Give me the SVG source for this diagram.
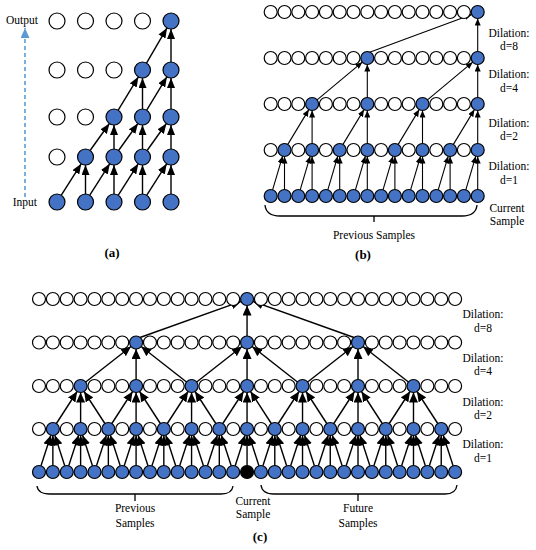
<svg xmlns="http://www.w3.org/2000/svg" width="536" height="550" viewBox="0 0 536 550">
<style>
circle{stroke:#000;stroke-width:1.2}
.e{fill:#fff}
.f{fill:#4472C4}
.k{fill:#000}
.ca line{stroke:#000;stroke-width:1.4;marker-end:url(#ha)}
.cb line{stroke:#000;stroke-width:1.1;marker-end:url(#hb)}
.cc line{stroke:#000;stroke-width:1.4;marker-end:url(#hc)}
.br{fill:none;stroke:#000;stroke-width:1.3}
text{font-family:"Liberation Serif","Times New Roman",serif;font-size:11.5px;fill:#000}
.m{text-anchor:middle}
.r{text-anchor:end}
.lb{font-weight:bold;font-size:13px;text-anchor:middle}
</style>
<defs>
<marker id="ha" markerUnits="userSpaceOnUse" markerWidth="10" markerHeight="8" refX="10" refY="4" orient="auto"><path d="M0,0 L10,4 L0,8 z" fill="#000"/></marker>
<marker id="hb" markerUnits="userSpaceOnUse" markerWidth="7" markerHeight="6" refX="7" refY="3" orient="auto"><path d="M0,0 L7,3 L0,6 z" fill="#000"/></marker>
<marker id="hc" markerUnits="userSpaceOnUse" markerWidth="10" markerHeight="9" refX="10" refY="4.5" orient="auto"><path d="M0,0 L10,4.5 L0,9 z" fill="#000"/></marker>
<marker id="hd" markerUnits="userSpaceOnUse" markerWidth="10" markerHeight="9" refX="10" refY="4.5" orient="auto"><path d="M0,0 L10,4.5 L0,9 z" fill="#5B9BD5"/></marker>
</defs>

<!-- connectors -->
<g id="connectors">
<g class="ca">
<line x1="85.5" y1="194" x2="85.5" y2="165"/>
<line x1="114" y1="194" x2="114" y2="165"/>
<line x1="142.5" y1="194" x2="142.5" y2="165"/>
<line x1="171" y1="194" x2="171" y2="165"/>
<line x1="61.3" y1="195.2" x2="81.2" y2="163.8"/>
<line x1="89.8" y1="195.2" x2="109.7" y2="163.8"/>
<line x1="118.3" y1="195.2" x2="138.2" y2="163.8"/>
<line x1="146.8" y1="195.2" x2="166.7" y2="163.8"/>
<line x1="114" y1="149" x2="114" y2="125"/>
<line x1="142.5" y1="149" x2="142.5" y2="125"/>
<line x1="171" y1="149" x2="171" y2="125"/>
<line x1="90.1" y1="150.5" x2="109.4" y2="123.5"/>
<line x1="118.6" y1="150.5" x2="137.9" y2="123.5"/>
<line x1="147.1" y1="150.5" x2="166.4" y2="123.5"/>
<line x1="142.5" y1="109" x2="142.5" y2="78"/>
<line x1="171" y1="109" x2="171" y2="78"/>
<line x1="118.2" y1="110.2" x2="138.4" y2="76.8"/>
<line x1="146.7" y1="110.2" x2="166.9" y2="76.8"/>
<line x1="171" y1="62" x2="171" y2="29"/>
<line x1="146.5" y1="63.1" x2="167" y2="27.9"/>
</g>
<line id="time-arrow" x1="25" y1="197" x2="25" y2="28" stroke="#5B9BD5" stroke-width="1.6" stroke-dasharray="4,3" marker-end="url(#hd)"/>

<g class="cb">
<line x1="284.5" y1="189.5" x2="284.5" y2="156.5"/>
<line x1="312.1" y1="189.5" x2="312.1" y2="156.5"/>
<line x1="339.7" y1="189.5" x2="339.7" y2="156.5"/>
<line x1="367.3" y1="189.5" x2="367.3" y2="156.5"/>
<line x1="394.9" y1="189.5" x2="394.9" y2="156.5"/>
<line x1="422.5" y1="189.5" x2="422.5" y2="156.5"/>
<line x1="450.1" y1="189.5" x2="450.1" y2="156.5"/>
<line x1="477.7" y1="189.5" x2="477.7" y2="156.5"/>
<line x1="272.6" y1="189.8" x2="282.6" y2="156.2"/>
<line x1="300.2" y1="189.8" x2="310.2" y2="156.2"/>
<line x1="327.8" y1="189.8" x2="337.8" y2="156.2"/>
<line x1="355.4" y1="189.8" x2="365.4" y2="156.2"/>
<line x1="383" y1="189.8" x2="393" y2="156.2"/>
<line x1="410.6" y1="189.8" x2="420.6" y2="156.2"/>
<line x1="438.2" y1="189.8" x2="448.2" y2="156.2"/>
<line x1="465.8" y1="189.8" x2="475.8" y2="156.2"/>
<line x1="312.1" y1="143.5" x2="312.1" y2="110.5"/>
<line x1="367.3" y1="143.5" x2="367.3" y2="110.5"/>
<line x1="422.5" y1="143.5" x2="422.5" y2="110.5"/>
<line x1="477.7" y1="143.5" x2="477.7" y2="110.5"/>
<line x1="287.8" y1="144.4" x2="308.8" y2="109.6"/>
<line x1="343" y1="144.4" x2="364" y2="109.6"/>
<line x1="398.2" y1="144.4" x2="419.2" y2="109.6"/>
<line x1="453.4" y1="144.4" x2="474.4" y2="109.6"/>
<line x1="367.3" y1="97.5" x2="367.3" y2="64.5"/>
<line x1="477.7" y1="97.5" x2="477.7" y2="64.5"/>
<line x1="317.1" y1="99.8" x2="362.3" y2="62.2"/>
<line x1="427.5" y1="99.8" x2="472.7" y2="62.2"/>
<line x1="477.7" y1="51.5" x2="477.7" y2="18.5"/>
<line x1="369" y1="52.5" x2="471.7" y2="14.5"/>
</g>

<g class="cc">
<line x1="41" y1="465.8" x2="50.87" y2="435.2"/><line x1="52.87" y1="465.5" x2="52.87" y2="435.5"/><line x1="64.74" y1="465.8" x2="54.87" y2="435.2"/>
<line x1="68.74" y1="465.8" x2="78.61" y2="435.2"/><line x1="80.61" y1="465.5" x2="80.61" y2="435.5"/><line x1="92.48" y1="465.8" x2="82.61" y2="435.2"/>
<line x1="96.48" y1="465.8" x2="106.35" y2="435.2"/><line x1="108.35" y1="465.5" x2="108.35" y2="435.5"/><line x1="120.22" y1="465.8" x2="110.35" y2="435.2"/>
<line x1="124.22" y1="465.8" x2="134.09" y2="435.2"/><line x1="136.09" y1="465.5" x2="136.09" y2="435.5"/><line x1="147.96" y1="465.8" x2="138.09" y2="435.2"/>
<line x1="151.96" y1="465.8" x2="161.83" y2="435.2"/><line x1="163.83" y1="465.5" x2="163.83" y2="435.5"/><line x1="175.7" y1="465.8" x2="165.83" y2="435.2"/>
<line x1="179.7" y1="465.8" x2="189.57" y2="435.2"/><line x1="191.57" y1="465.5" x2="191.57" y2="435.5"/><line x1="203.44" y1="465.8" x2="193.57" y2="435.2"/>
<line x1="207.44" y1="465.8" x2="217.31" y2="435.2"/><line x1="219.31" y1="465.5" x2="219.31" y2="435.5"/><line x1="231.18" y1="465.8" x2="221.31" y2="435.2"/>
<line x1="235.18" y1="465.8" x2="245.05" y2="435.2"/><line x1="247.05" y1="465.5" x2="247.05" y2="435.5"/><line x1="258.92" y1="465.8" x2="249.05" y2="435.2"/>
<line x1="262.92" y1="465.8" x2="272.79" y2="435.2"/><line x1="274.79" y1="465.5" x2="274.79" y2="435.5"/><line x1="286.66" y1="465.8" x2="276.79" y2="435.2"/>
<line x1="290.66" y1="465.8" x2="300.53" y2="435.2"/><line x1="302.53" y1="465.5" x2="302.53" y2="435.5"/><line x1="314.4" y1="465.8" x2="304.53" y2="435.2"/>
<line x1="318.4" y1="465.8" x2="328.27" y2="435.2"/><line x1="330.27" y1="465.5" x2="330.27" y2="435.5"/><line x1="342.14" y1="465.8" x2="332.27" y2="435.2"/>
<line x1="346.14" y1="465.8" x2="356.01" y2="435.2"/><line x1="358.01" y1="465.5" x2="358.01" y2="435.5"/><line x1="369.88" y1="465.8" x2="360.01" y2="435.2"/>
<line x1="373.88" y1="465.8" x2="383.75" y2="435.2"/><line x1="385.75" y1="465.5" x2="385.75" y2="435.5"/><line x1="397.62" y1="465.8" x2="387.75" y2="435.2"/>
<line x1="401.62" y1="465.8" x2="411.49" y2="435.2"/><line x1="413.49" y1="465.5" x2="413.49" y2="435.5"/><line x1="425.36" y1="465.8" x2="415.49" y2="435.2"/>
<line x1="429.36" y1="465.8" x2="439.23" y2="435.2"/><line x1="441.23" y1="465.5" x2="441.23" y2="435.5"/><line x1="453.1" y1="465.8" x2="443.23" y2="435.2"/>

<line x1="56.4" y1="423.5" x2="77.1" y2="391.5"/><line x1="80.61" y1="422.5" x2="80.61" y2="392.5"/><line x1="104.85" y1="423.5" x2="84.1" y2="391.5"/>
<line x1="111.85" y1="423.5" x2="132.59" y2="391.5"/><line x1="136.09" y1="422.5" x2="136.09" y2="392.5"/><line x1="160.33" y1="423.5" x2="139.59" y2="391.5"/>
<line x1="167.33" y1="423.5" x2="188.07" y2="391.5"/><line x1="191.57" y1="422.5" x2="191.57" y2="392.5"/><line x1="215.81" y1="423.5" x2="195.07" y2="391.5"/>
<line x1="222.81" y1="423.5" x2="243.55" y2="391.5"/><line x1="247.05" y1="422.5" x2="247.05" y2="392.5"/><line x1="271.29" y1="423.5" x2="250.55" y2="391.5"/>
<line x1="278.29" y1="423.5" x2="299.03" y2="391.5"/><line x1="302.53" y1="422.5" x2="302.53" y2="392.5"/><line x1="326.77" y1="423.5" x2="306.03" y2="391.5"/>
<line x1="333.77" y1="423.5" x2="354.51" y2="391.5"/><line x1="358.01" y1="422.5" x2="358.01" y2="392.5"/><line x1="382.25" y1="423.5" x2="361.51" y2="391.5"/>
<line x1="389.25" y1="423.5" x2="409.99" y2="391.5"/><line x1="413.49" y1="422.5" x2="413.49" y2="392.5"/><line x1="437.73" y1="423.5" x2="416.99" y2="391.5"/>

<line x1="85.7" y1="382" x2="131" y2="346.5"/><line x1="136.09" y1="379.5" x2="136.09" y2="349"/><line x1="186.5" y1="382" x2="141.2" y2="346.5"/>
<line x1="196.7" y1="382" x2="241.95" y2="346.5"/><line x1="247.05" y1="379.5" x2="247.05" y2="349"/><line x1="297.43" y1="382" x2="252.15" y2="346.5"/>
<line x1="307.63" y1="382" x2="352.91" y2="346.5"/><line x1="358.01" y1="379.5" x2="358.01" y2="349"/><line x1="408.39" y1="382" x2="363.11" y2="346.5"/>

<line x1="140" y1="337.5" x2="241" y2="301.4"/><line x1="247.05" y1="336" x2="247.05" y2="305.5"/><line x1="354" y1="337.5" x2="253.1" y2="301.4"/>
</g>
</g>

<!-- panel (a) nodes -->
<g id="panel-a">
<g id="a0_0"><circle class="e" cx="57" cy="21" r="8"/></g>
<g id="a0_1"><circle class="e" cx="85.5" cy="21" r="8"/></g>
<g id="a0_2"><circle class="e" cx="114" cy="21" r="8"/></g>
<g id="a0_3"><circle class="e" cx="142.5" cy="21" r="8"/></g>
<g id="a0_4"><circle class="f" cx="171" cy="21" r="8"/></g>
<g id="a1_0"><circle class="e" cx="57" cy="70" r="8"/></g>
<g id="a1_1"><circle class="e" cx="85.5" cy="70" r="8"/></g>
<g id="a1_2"><circle class="e" cx="114" cy="70" r="8"/></g>
<g id="a1_3"><circle class="f" cx="142.5" cy="70" r="8"/></g>
<g id="a1_4"><circle class="f" cx="171" cy="70" r="8"/></g>
<g id="a2_0"><circle class="e" cx="57" cy="117" r="8"/></g>
<g id="a2_1"><circle class="e" cx="85.5" cy="117" r="8"/></g>
<g id="a2_2"><circle class="f" cx="114" cy="117" r="8"/></g>
<g id="a2_3"><circle class="f" cx="142.5" cy="117" r="8"/></g>
<g id="a2_4"><circle class="f" cx="171" cy="117" r="8"/></g>
<g id="a3_0"><circle class="e" cx="57" cy="157" r="8"/></g>
<g id="a3_1"><circle class="f" cx="85.5" cy="157" r="8"/></g>
<g id="a3_2"><circle class="f" cx="114" cy="157" r="8"/></g>
<g id="a3_3"><circle class="f" cx="142.5" cy="157" r="8"/></g>
<g id="a3_4"><circle class="f" cx="171" cy="157" r="8"/></g>
<g id="a4_0"><circle class="f" cx="57" cy="202" r="8"/></g>
<g id="a4_1"><circle class="f" cx="85.5" cy="202" r="8"/></g>
<g id="a4_2"><circle class="f" cx="114" cy="202" r="8"/></g>
<g id="a4_3"><circle class="f" cx="142.5" cy="202" r="8"/></g>
<g id="a4_4"><circle class="f" cx="171" cy="202" r="8"/></g>
<text class="r" x="38" y="23.5">Output</text>
<text class="r" x="37" y="206">Input</text>
<text class="lb" x="112" y="257">(a)</text>
</g>

<!-- panel (b) nodes -->
<g id="panel-b">
<g id="b0_0"><circle class="e" cx="270.7" cy="12" r="6.5"/></g>
<g id="b0_1"><circle class="e" cx="284.5" cy="12" r="6.5"/></g>
<g id="b0_2"><circle class="e" cx="298.3" cy="12" r="6.5"/></g>
<g id="b0_3"><circle class="e" cx="312.1" cy="12" r="6.5"/></g>
<g id="b0_4"><circle class="e" cx="325.9" cy="12" r="6.5"/></g>
<g id="b0_5"><circle class="e" cx="339.7" cy="12" r="6.5"/></g>
<g id="b0_6"><circle class="e" cx="353.5" cy="12" r="6.5"/></g>
<g id="b0_7"><circle class="e" cx="367.3" cy="12" r="6.5"/></g>
<g id="b0_8"><circle class="e" cx="381.1" cy="12" r="6.5"/></g>
<g id="b0_9"><circle class="e" cx="394.9" cy="12" r="6.5"/></g>
<g id="b0_10"><circle class="e" cx="408.7" cy="12" r="6.5"/></g>
<g id="b0_11"><circle class="e" cx="422.5" cy="12" r="6.5"/></g>
<g id="b0_12"><circle class="e" cx="436.3" cy="12" r="6.5"/></g>
<g id="b0_13"><circle class="e" cx="450.1" cy="12" r="6.5"/></g>
<g id="b0_14"><circle class="e" cx="463.9" cy="12" r="6.5"/></g>
<g id="b0_15"><circle class="f" cx="477.7" cy="12" r="6.5"/></g>
<g id="b1_0"><circle class="e" cx="270.7" cy="58" r="6.5"/></g>
<g id="b1_1"><circle class="e" cx="284.5" cy="58" r="6.5"/></g>
<g id="b1_2"><circle class="e" cx="298.3" cy="58" r="6.5"/></g>
<g id="b1_3"><circle class="e" cx="312.1" cy="58" r="6.5"/></g>
<g id="b1_4"><circle class="e" cx="325.9" cy="58" r="6.5"/></g>
<g id="b1_5"><circle class="e" cx="339.7" cy="58" r="6.5"/></g>
<g id="b1_6"><circle class="e" cx="353.5" cy="58" r="6.5"/></g>
<g id="b1_7"><circle class="f" cx="367.3" cy="58" r="6.5"/></g>
<g id="b1_8"><circle class="e" cx="381.1" cy="58" r="6.5"/></g>
<g id="b1_9"><circle class="e" cx="394.9" cy="58" r="6.5"/></g>
<g id="b1_10"><circle class="e" cx="408.7" cy="58" r="6.5"/></g>
<g id="b1_11"><circle class="e" cx="422.5" cy="58" r="6.5"/></g>
<g id="b1_12"><circle class="e" cx="436.3" cy="58" r="6.5"/></g>
<g id="b1_13"><circle class="e" cx="450.1" cy="58" r="6.5"/></g>
<g id="b1_14"><circle class="e" cx="463.9" cy="58" r="6.5"/></g>
<g id="b1_15"><circle class="f" cx="477.7" cy="58" r="6.5"/></g>
<g id="b2_0"><circle class="e" cx="270.7" cy="104" r="6.5"/></g>
<g id="b2_1"><circle class="e" cx="284.5" cy="104" r="6.5"/></g>
<g id="b2_2"><circle class="e" cx="298.3" cy="104" r="6.5"/></g>
<g id="b2_3"><circle class="f" cx="312.1" cy="104" r="6.5"/></g>
<g id="b2_4"><circle class="e" cx="325.9" cy="104" r="6.5"/></g>
<g id="b2_5"><circle class="e" cx="339.7" cy="104" r="6.5"/></g>
<g id="b2_6"><circle class="e" cx="353.5" cy="104" r="6.5"/></g>
<g id="b2_7"><circle class="f" cx="367.3" cy="104" r="6.5"/></g>
<g id="b2_8"><circle class="e" cx="381.1" cy="104" r="6.5"/></g>
<g id="b2_9"><circle class="e" cx="394.9" cy="104" r="6.5"/></g>
<g id="b2_10"><circle class="e" cx="408.7" cy="104" r="6.5"/></g>
<g id="b2_11"><circle class="f" cx="422.5" cy="104" r="6.5"/></g>
<g id="b2_12"><circle class="e" cx="436.3" cy="104" r="6.5"/></g>
<g id="b2_13"><circle class="e" cx="450.1" cy="104" r="6.5"/></g>
<g id="b2_14"><circle class="e" cx="463.9" cy="104" r="6.5"/></g>
<g id="b2_15"><circle class="f" cx="477.7" cy="104" r="6.5"/></g>
<g id="b3_0"><circle class="e" cx="270.7" cy="150" r="6.5"/></g>
<g id="b3_1"><circle class="f" cx="284.5" cy="150" r="6.5"/></g>
<g id="b3_2"><circle class="e" cx="298.3" cy="150" r="6.5"/></g>
<g id="b3_3"><circle class="f" cx="312.1" cy="150" r="6.5"/></g>
<g id="b3_4"><circle class="e" cx="325.9" cy="150" r="6.5"/></g>
<g id="b3_5"><circle class="f" cx="339.7" cy="150" r="6.5"/></g>
<g id="b3_6"><circle class="e" cx="353.5" cy="150" r="6.5"/></g>
<g id="b3_7"><circle class="f" cx="367.3" cy="150" r="6.5"/></g>
<g id="b3_8"><circle class="e" cx="381.1" cy="150" r="6.5"/></g>
<g id="b3_9"><circle class="f" cx="394.9" cy="150" r="6.5"/></g>
<g id="b3_10"><circle class="e" cx="408.7" cy="150" r="6.5"/></g>
<g id="b3_11"><circle class="f" cx="422.5" cy="150" r="6.5"/></g>
<g id="b3_12"><circle class="e" cx="436.3" cy="150" r="6.5"/></g>
<g id="b3_13"><circle class="f" cx="450.1" cy="150" r="6.5"/></g>
<g id="b3_14"><circle class="e" cx="463.9" cy="150" r="6.5"/></g>
<g id="b3_15"><circle class="f" cx="477.7" cy="150" r="6.5"/></g>
<g id="b4_0"><circle class="f" cx="270.7" cy="196" r="6.5"/></g>
<g id="b4_1"><circle class="f" cx="284.5" cy="196" r="6.5"/></g>
<g id="b4_2"><circle class="f" cx="298.3" cy="196" r="6.5"/></g>
<g id="b4_3"><circle class="f" cx="312.1" cy="196" r="6.5"/></g>
<g id="b4_4"><circle class="f" cx="325.9" cy="196" r="6.5"/></g>
<g id="b4_5"><circle class="f" cx="339.7" cy="196" r="6.5"/></g>
<g id="b4_6"><circle class="f" cx="353.5" cy="196" r="6.5"/></g>
<g id="b4_7"><circle class="f" cx="367.3" cy="196" r="6.5"/></g>
<g id="b4_8"><circle class="f" cx="381.1" cy="196" r="6.5"/></g>
<g id="b4_9"><circle class="f" cx="394.9" cy="196" r="6.5"/></g>
<g id="b4_10"><circle class="f" cx="408.7" cy="196" r="6.5"/></g>
<g id="b4_11"><circle class="f" cx="422.5" cy="196" r="6.5"/></g>
<g id="b4_12"><circle class="f" cx="436.3" cy="196" r="6.5"/></g>
<g id="b4_13"><circle class="f" cx="450.1" cy="196" r="6.5"/></g>
<g id="b4_14"><circle class="f" cx="463.9" cy="196" r="6.5"/></g>
<g id="b4_15"><circle class="f" cx="477.7" cy="196" r="6.5"/></g>
<text class="m" x="509" y="37">Dilation:</text>
<text class="m" x="509" y="50">d=8</text>
<text class="m" x="509" y="78">Dilation:</text>
<text class="m" x="509" y="92">d=4</text>
<text class="m" x="509" y="127">Dilation:</text>
<text class="m" x="509" y="140">d=2</text>
<text class="m" x="509" y="170">Dilation:</text>
<text class="m" x="509" y="184">d=1</text>
<text class="m" x="507" y="212">Current</text>
<text class="m" x="507" y="225">Sample</text>
<path class="br" d="M265,205 Q266,216 280,216 L462,216 Q476,216 477,205 M374,216 L374,222"/>
<text class="m" x="374" y="239">Previous Samples</text>
<text class="lb" x="363" y="259">(b)</text>
</g>

<!-- panel (c) nodes -->
<g id="panel-c">
<g id="c0_0"><circle class="e" cx="39" cy="299" r="6.5"/></g>
<g id="c0_1"><circle class="e" cx="52.87" cy="299" r="6.5"/></g>
<g id="c0_2"><circle class="e" cx="66.74" cy="299" r="6.5"/></g>
<g id="c0_3"><circle class="e" cx="80.61" cy="299" r="6.5"/></g>
<g id="c0_4"><circle class="e" cx="94.48" cy="299" r="6.5"/></g>
<g id="c0_5"><circle class="e" cx="108.35" cy="299" r="6.5"/></g>
<g id="c0_6"><circle class="e" cx="122.22" cy="299" r="6.5"/></g>
<g id="c0_7"><circle class="e" cx="136.09" cy="299" r="6.5"/></g>
<g id="c0_8"><circle class="e" cx="149.96" cy="299" r="6.5"/></g>
<g id="c0_9"><circle class="e" cx="163.83" cy="299" r="6.5"/></g>
<g id="c0_10"><circle class="e" cx="177.7" cy="299" r="6.5"/></g>
<g id="c0_11"><circle class="e" cx="191.57" cy="299" r="6.5"/></g>
<g id="c0_12"><circle class="e" cx="205.44" cy="299" r="6.5"/></g>
<g id="c0_13"><circle class="e" cx="219.31" cy="299" r="6.5"/></g>
<g id="c0_14"><circle class="e" cx="233.18" cy="299" r="6.5"/></g>
<g id="c0_15"><circle class="f" cx="247.05" cy="299" r="6.5"/></g>
<g id="c0_16"><circle class="e" cx="260.92" cy="299" r="6.5"/></g>
<g id="c0_17"><circle class="e" cx="274.79" cy="299" r="6.5"/></g>
<g id="c0_18"><circle class="e" cx="288.66" cy="299" r="6.5"/></g>
<g id="c0_19"><circle class="e" cx="302.53" cy="299" r="6.5"/></g>
<g id="c0_20"><circle class="e" cx="316.4" cy="299" r="6.5"/></g>
<g id="c0_21"><circle class="e" cx="330.27" cy="299" r="6.5"/></g>
<g id="c0_22"><circle class="e" cx="344.14" cy="299" r="6.5"/></g>
<g id="c0_23"><circle class="e" cx="358.01" cy="299" r="6.5"/></g>
<g id="c0_24"><circle class="e" cx="371.88" cy="299" r="6.5"/></g>
<g id="c0_25"><circle class="e" cx="385.75" cy="299" r="6.5"/></g>
<g id="c0_26"><circle class="e" cx="399.62" cy="299" r="6.5"/></g>
<g id="c0_27"><circle class="e" cx="413.49" cy="299" r="6.5"/></g>
<g id="c0_28"><circle class="e" cx="427.36" cy="299" r="6.5"/></g>
<g id="c0_29"><circle class="e" cx="441.23" cy="299" r="6.5"/></g>
<g id="c0_30"><circle class="e" cx="455.1" cy="299" r="6.5"/></g>

<g id="c1_0"><circle class="e" cx="39" cy="342.5" r="6.5"/></g>
<g id="c1_1"><circle class="e" cx="52.87" cy="342.5" r="6.5"/></g>
<g id="c1_2"><circle class="e" cx="66.74" cy="342.5" r="6.5"/></g>
<g id="c1_3"><circle class="e" cx="80.61" cy="342.5" r="6.5"/></g>
<g id="c1_4"><circle class="e" cx="94.48" cy="342.5" r="6.5"/></g>
<g id="c1_5"><circle class="e" cx="108.35" cy="342.5" r="6.5"/></g>
<g id="c1_6"><circle class="e" cx="122.22" cy="342.5" r="6.5"/></g>
<g id="c1_7"><circle class="f" cx="136.09" cy="342.5" r="6.5"/></g>
<g id="c1_8"><circle class="e" cx="149.96" cy="342.5" r="6.5"/></g>
<g id="c1_9"><circle class="e" cx="163.83" cy="342.5" r="6.5"/></g>
<g id="c1_10"><circle class="e" cx="177.7" cy="342.5" r="6.5"/></g>
<g id="c1_11"><circle class="e" cx="191.57" cy="342.5" r="6.5"/></g>
<g id="c1_12"><circle class="e" cx="205.44" cy="342.5" r="6.5"/></g>
<g id="c1_13"><circle class="e" cx="219.31" cy="342.5" r="6.5"/></g>
<g id="c1_14"><circle class="e" cx="233.18" cy="342.5" r="6.5"/></g>
<g id="c1_15"><circle class="f" cx="247.05" cy="342.5" r="6.5"/></g>
<g id="c1_16"><circle class="e" cx="260.92" cy="342.5" r="6.5"/></g>
<g id="c1_17"><circle class="e" cx="274.79" cy="342.5" r="6.5"/></g>
<g id="c1_18"><circle class="e" cx="288.66" cy="342.5" r="6.5"/></g>
<g id="c1_19"><circle class="e" cx="302.53" cy="342.5" r="6.5"/></g>
<g id="c1_20"><circle class="e" cx="316.4" cy="342.5" r="6.5"/></g>
<g id="c1_21"><circle class="e" cx="330.27" cy="342.5" r="6.5"/></g>
<g id="c1_22"><circle class="e" cx="344.14" cy="342.5" r="6.5"/></g>
<g id="c1_23"><circle class="f" cx="358.01" cy="342.5" r="6.5"/></g>
<g id="c1_24"><circle class="e" cx="371.88" cy="342.5" r="6.5"/></g>
<g id="c1_25"><circle class="e" cx="385.75" cy="342.5" r="6.5"/></g>
<g id="c1_26"><circle class="e" cx="399.62" cy="342.5" r="6.5"/></g>
<g id="c1_27"><circle class="e" cx="413.49" cy="342.5" r="6.5"/></g>
<g id="c1_28"><circle class="e" cx="427.36" cy="342.5" r="6.5"/></g>
<g id="c1_29"><circle class="e" cx="441.23" cy="342.5" r="6.5"/></g>
<g id="c1_30"><circle class="e" cx="455.1" cy="342.5" r="6.5"/></g>

<g id="c2_0"><circle class="e" cx="39" cy="386" r="6.5"/></g>
<g id="c2_1"><circle class="e" cx="52.87" cy="386" r="6.5"/></g>
<g id="c2_2"><circle class="e" cx="66.74" cy="386" r="6.5"/></g>
<g id="c2_3"><circle class="f" cx="80.61" cy="386" r="6.5"/></g>
<g id="c2_4"><circle class="e" cx="94.48" cy="386" r="6.5"/></g>
<g id="c2_5"><circle class="e" cx="108.35" cy="386" r="6.5"/></g>
<g id="c2_6"><circle class="e" cx="122.22" cy="386" r="6.5"/></g>
<g id="c2_7"><circle class="f" cx="136.09" cy="386" r="6.5"/></g>
<g id="c2_8"><circle class="e" cx="149.96" cy="386" r="6.5"/></g>
<g id="c2_9"><circle class="e" cx="163.83" cy="386" r="6.5"/></g>
<g id="c2_10"><circle class="e" cx="177.7" cy="386" r="6.5"/></g>
<g id="c2_11"><circle class="f" cx="191.57" cy="386" r="6.5"/></g>
<g id="c2_12"><circle class="e" cx="205.44" cy="386" r="6.5"/></g>
<g id="c2_13"><circle class="e" cx="219.31" cy="386" r="6.5"/></g>
<g id="c2_14"><circle class="e" cx="233.18" cy="386" r="6.5"/></g>
<g id="c2_15"><circle class="f" cx="247.05" cy="386" r="6.5"/></g>
<g id="c2_16"><circle class="e" cx="260.92" cy="386" r="6.5"/></g>
<g id="c2_17"><circle class="e" cx="274.79" cy="386" r="6.5"/></g>
<g id="c2_18"><circle class="e" cx="288.66" cy="386" r="6.5"/></g>
<g id="c2_19"><circle class="f" cx="302.53" cy="386" r="6.5"/></g>
<g id="c2_20"><circle class="e" cx="316.4" cy="386" r="6.5"/></g>
<g id="c2_21"><circle class="e" cx="330.27" cy="386" r="6.5"/></g>
<g id="c2_22"><circle class="e" cx="344.14" cy="386" r="6.5"/></g>
<g id="c2_23"><circle class="f" cx="358.01" cy="386" r="6.5"/></g>
<g id="c2_24"><circle class="e" cx="371.88" cy="386" r="6.5"/></g>
<g id="c2_25"><circle class="e" cx="385.75" cy="386" r="6.5"/></g>
<g id="c2_26"><circle class="e" cx="399.62" cy="386" r="6.5"/></g>
<g id="c2_27"><circle class="f" cx="413.49" cy="386" r="6.5"/></g>
<g id="c2_28"><circle class="e" cx="427.36" cy="386" r="6.5"/></g>
<g id="c2_29"><circle class="e" cx="441.23" cy="386" r="6.5"/></g>
<g id="c2_30"><circle class="e" cx="455.1" cy="386" r="6.5"/></g>

<g id="c3_0"><circle class="e" cx="39" cy="429" r="6.5"/></g>
<g id="c3_1"><circle class="f" cx="52.87" cy="429" r="6.5"/></g>
<g id="c3_2"><circle class="e" cx="66.74" cy="429" r="6.5"/></g>
<g id="c3_3"><circle class="f" cx="80.61" cy="429" r="6.5"/></g>
<g id="c3_4"><circle class="e" cx="94.48" cy="429" r="6.5"/></g>
<g id="c3_5"><circle class="f" cx="108.35" cy="429" r="6.5"/></g>
<g id="c3_6"><circle class="e" cx="122.22" cy="429" r="6.5"/></g>
<g id="c3_7"><circle class="f" cx="136.09" cy="429" r="6.5"/></g>
<g id="c3_8"><circle class="e" cx="149.96" cy="429" r="6.5"/></g>
<g id="c3_9"><circle class="f" cx="163.83" cy="429" r="6.5"/></g>
<g id="c3_10"><circle class="e" cx="177.7" cy="429" r="6.5"/></g>
<g id="c3_11"><circle class="f" cx="191.57" cy="429" r="6.5"/></g>
<g id="c3_12"><circle class="e" cx="205.44" cy="429" r="6.5"/></g>
<g id="c3_13"><circle class="f" cx="219.31" cy="429" r="6.5"/></g>
<g id="c3_14"><circle class="e" cx="233.18" cy="429" r="6.5"/></g>
<g id="c3_15"><circle class="f" cx="247.05" cy="429" r="6.5"/></g>
<g id="c3_16"><circle class="e" cx="260.92" cy="429" r="6.5"/></g>
<g id="c3_17"><circle class="f" cx="274.79" cy="429" r="6.5"/></g>
<g id="c3_18"><circle class="e" cx="288.66" cy="429" r="6.5"/></g>
<g id="c3_19"><circle class="f" cx="302.53" cy="429" r="6.5"/></g>
<g id="c3_20"><circle class="e" cx="316.4" cy="429" r="6.5"/></g>
<g id="c3_21"><circle class="f" cx="330.27" cy="429" r="6.5"/></g>
<g id="c3_22"><circle class="e" cx="344.14" cy="429" r="6.5"/></g>
<g id="c3_23"><circle class="f" cx="358.01" cy="429" r="6.5"/></g>
<g id="c3_24"><circle class="e" cx="371.88" cy="429" r="6.5"/></g>
<g id="c3_25"><circle class="f" cx="385.75" cy="429" r="6.5"/></g>
<g id="c3_26"><circle class="e" cx="399.62" cy="429" r="6.5"/></g>
<g id="c3_27"><circle class="f" cx="413.49" cy="429" r="6.5"/></g>
<g id="c3_28"><circle class="e" cx="427.36" cy="429" r="6.5"/></g>
<g id="c3_29"><circle class="f" cx="441.23" cy="429" r="6.5"/></g>
<g id="c3_30"><circle class="e" cx="455.1" cy="429" r="6.5"/></g>

<g id="c4_0"><circle class="f" cx="39" cy="472" r="6.5"/></g>
<g id="c4_1"><circle class="f" cx="52.87" cy="472" r="6.5"/></g>
<g id="c4_2"><circle class="f" cx="66.74" cy="472" r="6.5"/></g>
<g id="c4_3"><circle class="f" cx="80.61" cy="472" r="6.5"/></g>
<g id="c4_4"><circle class="f" cx="94.48" cy="472" r="6.5"/></g>
<g id="c4_5"><circle class="f" cx="108.35" cy="472" r="6.5"/></g>
<g id="c4_6"><circle class="f" cx="122.22" cy="472" r="6.5"/></g>
<g id="c4_7"><circle class="f" cx="136.09" cy="472" r="6.5"/></g>
<g id="c4_8"><circle class="f" cx="149.96" cy="472" r="6.5"/></g>
<g id="c4_9"><circle class="f" cx="163.83" cy="472" r="6.5"/></g>
<g id="c4_10"><circle class="f" cx="177.7" cy="472" r="6.5"/></g>
<g id="c4_11"><circle class="f" cx="191.57" cy="472" r="6.5"/></g>
<g id="c4_12"><circle class="f" cx="205.44" cy="472" r="6.5"/></g>
<g id="c4_13"><circle class="f" cx="219.31" cy="472" r="6.5"/></g>
<g id="c4_14"><circle class="f" cx="233.18" cy="472" r="6.5"/></g>
<g id="c4_15"><circle class="k" cx="247.05" cy="472" r="6.5"/></g>
<g id="c4_16"><circle class="f" cx="260.92" cy="472" r="6.5"/></g>
<g id="c4_17"><circle class="f" cx="274.79" cy="472" r="6.5"/></g>
<g id="c4_18"><circle class="f" cx="288.66" cy="472" r="6.5"/></g>
<g id="c4_19"><circle class="f" cx="302.53" cy="472" r="6.5"/></g>
<g id="c4_20"><circle class="f" cx="316.4" cy="472" r="6.5"/></g>
<g id="c4_21"><circle class="f" cx="330.27" cy="472" r="6.5"/></g>
<g id="c4_22"><circle class="f" cx="344.14" cy="472" r="6.5"/></g>
<g id="c4_23"><circle class="f" cx="358.01" cy="472" r="6.5"/></g>
<g id="c4_24"><circle class="f" cx="371.88" cy="472" r="6.5"/></g>
<g id="c4_25"><circle class="f" cx="385.75" cy="472" r="6.5"/></g>
<g id="c4_26"><circle class="f" cx="399.62" cy="472" r="6.5"/></g>
<g id="c4_27"><circle class="f" cx="413.49" cy="472" r="6.5"/></g>
<g id="c4_28"><circle class="f" cx="427.36" cy="472" r="6.5"/></g>
<g id="c4_29"><circle class="f" cx="441.23" cy="472" r="6.5"/></g>
<g id="c4_30"><circle class="f" cx="455.1" cy="472" r="6.5"/></g>

<text class="m" x="483" y="318">Dilation:</text>
<text class="m" x="483" y="332">d=8</text>
<text class="m" x="483" y="362">Dilation:</text>
<text class="m" x="483" y="375">d=4</text>
<text class="m" x="483" y="406">Dilation:</text>
<text class="m" x="483" y="419">d=2</text>
<text class="m" x="483" y="448">Dilation:</text>
<text class="m" x="483" y="462">d=1</text>
<path class="br" d="M37,486 Q38,494 50,494 L221,494 Q232,494 233,486 M135,494 L135,501"/>
<path class="br" d="M261,485 Q262,494 274,494 L445,494 Q456,494 457,485 M358,494 L358,501"/>
<text class="m" x="135" y="512">Previous</text>
<text class="m" x="135" y="527">Samples</text>
<text class="m" x="253" y="505">Current</text>
<text class="m" x="253" y="518">Sample</text>
<text class="m" x="358" y="512">Future</text>
<text class="m" x="358" y="527">Samples</text>
<text class="lb" x="260" y="541">(c)</text>
</g>
</svg>
